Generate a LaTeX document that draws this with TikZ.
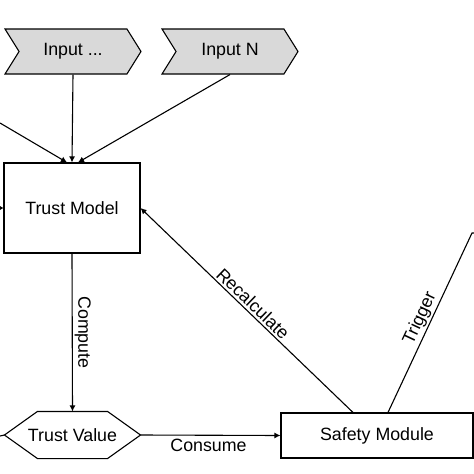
\documentclass[tikz,border=0pt]{standalone}
\usepackage{fontspec}
\setmainfont{Liberation Sans}
\usetikzlibrary{shapes.symbols,arrows.meta}
\begin{document}
\begin{tikzpicture}[x=1pt,y=-1pt,line width=1.1pt,>={Latex[length=6pt,width=6pt]},
    inbox/.style={signal,signal from=west,signal to=east,signal pointer angle=116,draw,fill=gray!30,minimum width=136pt,minimum height=45pt,inner sep=0pt},
    modbox/.style={rectangle,draw,inner sep=0pt}]
    \fontsize{17.8}{21}\selectfont
    \useasboundingbox (0,0) rectangle (474,474);

    \node[inbox] (inmid) at (73,51.5) {Input ...};
    \node[inbox] (inN) at (230,51.5) {Input N};
    \node[modbox,minimum width=136pt,minimum height=90pt] (tm) at (72,208) {Trust Model};
    \node[inner sep=0pt,minimum width=135pt,minimum height=46pt] (tv) at (72.5,435) {Trust Value};
    \node[modbox,minimum width=192pt,minimum height=45pt] (sm) at (377,435.5) {Safety Module};

    % hexagon round the trust value
    \draw (tv.west) -- ([xshift=33pt]tv.north west) -- ([xshift=-33pt]tv.north east) -- (tv.east)
        -- ([xshift=-33pt]tv.south east) -- ([xshift=33pt]tv.south west) -- cycle;

    % loose ends at the border
    \coordinate (inA) at (0,123);
    \coordinate (inB) at (0,208);
    \coordinate (tvL) at (0,436);
    \coordinate (trg) at (472,233);
    \coordinate (trgE) at (474,233);

    \draw [->] (inmid.south) -- (tm.north);
    \draw [->] (inN.south) -- ([xshift=6pt]tm.north);
    \draw [->] (inA) -- ([xshift=-5pt]tm.north);
    \draw [-{Latex[length=4pt,width=5pt]}] (inB) -- (tm.west);
    \draw (tvL) -- (tv.west);

    \draw [->] (tm.south) -- node[rotate=-90,anchor=south,inner sep=2pt]{Compute} (tv.north);
    \draw [->] (tv.east) -- node[below,inner sep=3.5pt,xshift=-2pt]{Consume} (sm.west);
    \draw [<-] (tm.east) -- node[sloped,above,inner sep=2pt]{Recalculate} ([xshift=-24pt]sm.north);
    \draw ([xshift=11pt]sm.north) -- node[sloped,above,inner sep=2pt]{Trigger} (trg) -- (trgE);
\end{tikzpicture}
\end{document}
